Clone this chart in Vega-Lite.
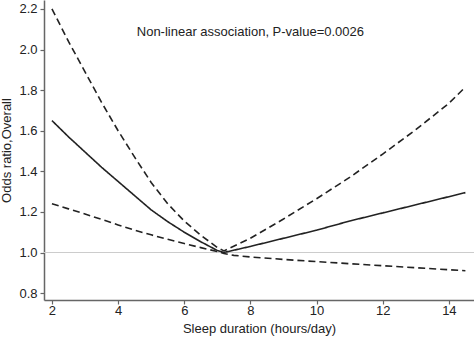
{
  "$schema": "https://vega.github.io/schema/vega-lite/v6.json",
  "width": 430,
  "height": 300,
  "autosize": {"type": "none"},
  "padding": {"left": 44, "top": 0, "right": 0, "bottom": 37},
  "background": "white",
  "config": {
    "view": {"stroke": null},
    "font": "Liberation Sans",
    "axis": {
      "grid": false,
      "domainColor": "#666666",
      "domainWidth": 1.5,
      "tickColor": "#666666",
      "tickWidth": 1.2,
      "tickSize": 4,
      "labelFont": "Liberation Sans",
      "labelFontSize": 13,
      "labelColor": "#222222",
      "titleFont": "Liberation Sans",
      "titleFontSize": 13,
      "titleFontWeight": "normal",
      "titleColor": "#222222"
    }
  },
  "datasets": {
    "curves": [
      {"x": 2, "series": "estimate", "or": 1.65},
      {"x": 2.5, "series": "estimate", "or": 1.57},
      {"x": 3, "series": "estimate", "or": 1.495},
      {"x": 3.5, "series": "estimate", "or": 1.42},
      {"x": 4, "series": "estimate", "or": 1.35},
      {"x": 4.5, "series": "estimate", "or": 1.28},
      {"x": 5, "series": "estimate", "or": 1.21},
      {"x": 5.5, "series": "estimate", "or": 1.152},
      {"x": 6, "series": "estimate", "or": 1.1},
      {"x": 6.5, "series": "estimate", "or": 1.053},
      {"x": 7, "series": "estimate", "or": 1.01},
      {"x": 7.2, "series": "estimate", "or": 1.0},
      {"x": 8, "series": "estimate", "or": 1.03},
      {"x": 9, "series": "estimate", "or": 1.07},
      {"x": 10, "series": "estimate", "or": 1.11},
      {"x": 11, "series": "estimate", "or": 1.155},
      {"x": 12, "series": "estimate", "or": 1.195},
      {"x": 13, "series": "estimate", "or": 1.235},
      {"x": 14, "series": "estimate", "or": 1.275},
      {"x": 14.5, "series": "estimate", "or": 1.295},
      {"x": 2, "series": "upper", "or": 2.2},
      {"x": 2.5, "series": "upper", "or": 2.04},
      {"x": 3, "series": "upper", "or": 1.89},
      {"x": 3.5, "series": "upper", "or": 1.74},
      {"x": 4, "series": "upper", "or": 1.6},
      {"x": 4.5, "series": "upper", "or": 1.47},
      {"x": 5, "series": "upper", "or": 1.345},
      {"x": 5.5, "series": "upper", "or": 1.24},
      {"x": 6, "series": "upper", "or": 1.155},
      {"x": 6.5, "series": "upper", "or": 1.085},
      {"x": 7, "series": "upper", "or": 1.025},
      {"x": 7.2, "series": "upper", "or": 1.008},
      {"x": 8, "series": "upper", "or": 1.07},
      {"x": 9, "series": "upper", "or": 1.165},
      {"x": 10, "series": "upper", "or": 1.265},
      {"x": 11, "series": "upper", "or": 1.37},
      {"x": 12, "series": "upper", "or": 1.485},
      {"x": 13, "series": "upper", "or": 1.605},
      {"x": 14, "series": "upper", "or": 1.735},
      {"x": 14.5, "series": "upper", "or": 1.815},
      {"x": 2, "series": "lower", "or": 1.24},
      {"x": 2.5, "series": "lower", "or": 1.215},
      {"x": 3, "series": "lower", "or": 1.19},
      {"x": 3.5, "series": "lower", "or": 1.163},
      {"x": 4, "series": "lower", "or": 1.136},
      {"x": 4.5, "series": "lower", "or": 1.11},
      {"x": 5, "series": "lower", "or": 1.087},
      {"x": 5.5, "series": "lower", "or": 1.065},
      {"x": 6, "series": "lower", "or": 1.044},
      {"x": 6.5, "series": "lower", "or": 1.024},
      {"x": 7, "series": "lower", "or": 1.005},
      {"x": 7.2, "series": "lower", "or": 0.995},
      {"x": 7.5, "series": "lower", "or": 0.986},
      {"x": 8, "series": "lower", "or": 0.978},
      {"x": 9, "series": "lower", "or": 0.966},
      {"x": 10, "series": "lower", "or": 0.955},
      {"x": 11, "series": "lower", "or": 0.945},
      {"x": 12, "series": "lower", "or": 0.935},
      {"x": 13, "series": "lower", "or": 0.925},
      {"x": 14, "series": "lower", "or": 0.915},
      {"x": 14.5, "series": "lower", "or": 0.91}
    ]
  },
  "layer": [
    {
      "data": {"values": [{"ref": 1}]},
      "mark": {"type": "rule", "color": "#cccccc", "strokeWidth": 1},
      "encoding": {
        "y": {"field": "ref", "type": "quantitative", "scale": {"domain": [0.766, 2.244]}}
      }
    },
    {
      "data": {"name": "curves"},
      "mark": {"type": "line", "color": "#222222", "strokeWidth": 1.6, "clip": true},
      "encoding": {
        "x": {
          "field": "x", "type": "quantitative",
          "scale": {"domain": [1.76, 14.76], "nice": false, "zero": false},
          "axis": {"values": [2, 4, 6, 8, 10, 12, 14], "title": "Sleep duration (hours/day)", "labelPadding": 0, "titleY": 35, "titleBaseline": "bottom"}
        },
        "y": {
          "field": "or", "type": "quantitative",
          "scale": {"domain": [0.766, 2.244], "nice": false, "zero": false},
          "axis": {"values": [0.8, 1.0, 1.2, 1.4, 1.6, 1.8, 2.0, 2.2], "format": ".1f", "title": "Odds ratio,Overall", "labelPadding": 3, "titlePadding": 5}
        },
        "detail": {"field": "series", "type": "nominal"},
        "strokeDash": {
          "field": "series", "type": "nominal",
          "scale": {"domain": ["estimate", "lower", "upper"], "range": [[1, 0], [7, 4], [7, 4]]},
          "legend": null
        }
      }
    },
    {
      "data": {"values": [{"x": 8, "y": 2.087, "label": "Non-linear association, P-value=0.0026"}]},
      "mark": {"type": "text", "align": "center", "baseline": "middle", "fontSize": 13, "color": "#222222", "font": "Liberation Sans"},
      "encoding": {
        "x": {"field": "x", "type": "quantitative"},
        "y": {"field": "y", "type": "quantitative"},
        "text": {"field": "label"}
      }
    }
  ]
}
